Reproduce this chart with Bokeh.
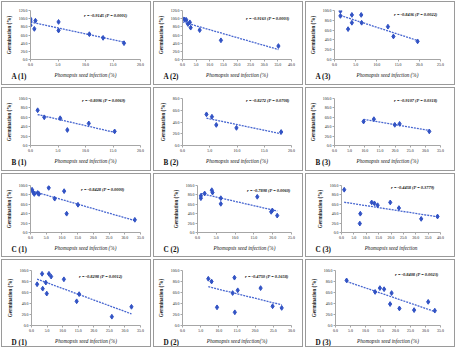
import numpy as np
from bokeh.plotting import figure
from bokeh.layouts import column, row
from bokeh.models import Label, NumeralTickFormatter, SingleIntervalTicker, Range1d
from bokeh.embed import file_html
from bokeh.resources import INLINE

# ---------------- data ----------------
a1_x = [0.0, 0.0, 0.0, 0.9, 0.7, 5.1, 5.1, 10.7, 13.2, 17.0]
a1_y = [99, 94, 84, 95, 75, 92, 71, 62, 53, 40]
a2_x = [0.0, 0.8, 1.4, 2.0, 2.7, 3.0, 6.3, 14.1, 35.2]
a2_y = [100, 98, 97, 87, 91, 78, 72, 47, 33]
a3_x = [1.4, 1.4, 4.1, 4.1, 3.2, 6.3, 6.4, 12.6, 13.9, 19.6]
a3_y = [99, 89, 91, 75, 62, 91, 75, 67, 47, 37]
b1_x = [1.3, 2.5, 5.4, 6.7, 10.6, 15.3]
b1_y = [75, 60, 58, 33, 47, 30]
b2_x = [4.4, 5.4, 6.2, 9.9, 18.1]
b2_y = [53, 49, 35, 30, 23]
b3_x = [9.6, 13.0, 19.9, 21.5, 31.3]
b3_y = [51, 56, 44, 46, 30]
c1_x = [0.5, 0.9, 1.2, 2.3, 2.7, 5.8, 7.7, 10.7, 11.5, 15.1, 33.2]
c1_y = [91, 85, 82, 84, 82, 95, 72, 88, 40, 59, 27]
c2_x = [0.9, 0.9, 1.9, 3.8, 4.0, 6.2, 6.2, 15.9, 19.6, 19.9, 21.2]
c2_y = [78, 73, 83, 90, 85, 73, 61, 76, 44, 47, 36]
c3_x = [1.1, 7.6, 7.4, 12.2, 13.3, 14.6, 19.7, 23.2, 32.2, 38.8]
c3_y = [91, 40, 19, 64, 62, 58, 64, 52, 29, 34]
d1_x = [1.8, 3.4, 3.6, 4.6, 4.9, 5.6, 6.3, 10.4, 14.5, 15.3, 25.8, 32.1]
d1_y = [75, 94, 67, 78, 58, 94, 89, 84, 44, 57, 16, 34]
d2_x = [7.1, 8.0, 9.5, 13.8, 14.3, 14.4, 15.2, 21.5, 24.8, 27.3]
d2_y = [85, 80, 33, 59, 87, 24, 64, 68, 35, 32]
d3_x = [3.7, 13.2, 14.8, 16.2, 18.7, 18.2, 21.3, 26.2, 30.9, 33.1]
d3_y = [82, 61, 68, 66, 59, 39, 31, 28, 43, 27]

x_max = [[20, 40, 25], [20, 20, 35], [35, 25, 40], [35, 30, 35]]
y_max = [[120, 120, 100], [100, 80, 100], [100, 100, 100], [100, 100, 100]]

r_texts = [
    ["r = -0.9145 (P = 0.0001)", "r = -0.9163 (P = 0.0003)", "r = -0.8436 (P = 0.0022)"],
    ["r = -0.8096 (P = 0.0069)", "r = -0.8272 (P = 0.0708)", "r = -0.9107 (P = 0.0318)"],
    ["r = -0.8428 (P = 0.0000)", "r = -0.7898 (P = 0.0060)", "r = -0.4458 (P = 0.3779)"],
    ["r = -0.8298 (P = 0.0012)", "r = -0.4750 (P = 0.1658)", "r = -0.8408 (P = 0.0023)"],
]
panel_labels = [["A (1)", "A (2)", "A (3)"], ["B (1)", "B (2)", "B (3)"],
                ["C (1)", "C (2)", "C (3)"], ["D (1)", "D (2)", "D (3)"]]
x_titles = [
    ["Phomopsis seed infection (%)"] * 3,
    ["Phomopsis seed infection (%)"] * 3,
    ["Phomopsis seed infection (%)", "Phomopsis seed infection (%)", "Phomopsis seed infection"],
    ["Phomopsis seed infection (%)", "Phomopsis seed infection(%)", "Phomopsis seed infection (%)"],
]
y_title = "Germination (%)"

series = [[(a1_x, a1_y), (a2_x, a2_y), (a3_x, a3_y)],
          [(b1_x, b1_y), (b2_x, b2_y), (b3_x, b3_y)],
          [(c1_x, c1_y), (c2_x, c2_y), (c3_x, c3_y)],
          [(d1_x, d1_y), (d2_x, d2_y), (d3_x, d3_y)]]

# ---------------- layout / style ----------------
W = 152          # cell width (figure + 2px frame/margin each side)
PAD = 2
row_h = [86, 86, 86, 90]
row_top = [10, 12, 13, 12]
row_bot = [27, 27, 26, 23]
col_right = [12, 13, 16]
lefts = [[30, 30, 30], [30, 30, 30], [30, 45, 37], [31, 30, 31]]
r_off = [[(13, 5), (2, 8), (3, 4)], [(15, 2), (2, 2), (3, 2)],
         [(16, 4), (1, 5), (6, 2)], [(18, 6), (3, 6), (2, 4)]]

PT = "#3152c4"
LN = "#4766d0"
AX = "#a6a6a6"
FONT = "Liberation Serif"


def make_panel(i, j):
    x, y = series[i][j]
    w = W - 2 * PAD
    h = row_h[i] - 2 * PAD
    l = lefts[i][j] - PAD
    r = col_right[j] - PAD
    t = row_top[i] - PAD
    b = row_bot[i] - PAD
    p = figure(width=w, height=h, x_range=Range1d(0, x_max[i][j]), y_range=Range1d(0, y_max[i][j]),
               min_border_left=l, min_border_right=r, min_border_top=t, min_border_bottom=b,
               output_backend="svg", toolbar_location=None, title=None)
    p.grid.visible = False
    p.outline_line_color = None
    p.xaxis.ticker = SingleIntervalTicker(interval=5, num_minor_ticks=0)
    p.yaxis.ticker = SingleIntervalTicker(interval=20, num_minor_ticks=0)
    for ax in (p.xaxis[0], p.yaxis[0]):
        ax.formatter = NumeralTickFormatter(format="0.0")
        ax.axis_line_color = AX
        ax.major_tick_line_color = AX
        ax.major_tick_out = 2
        ax.major_tick_in = 0
        ax.minor_tick_line_color = None
        ax.major_label_text_font = FONT
        ax.major_label_text_font_size = "3.9px"
        ax.major_label_text_color = "#222222"
        ax.major_label_standoff = 1
        ax.axis_label_text_font = FONT
        ax.axis_label_text_color = "#111111"
    p.xaxis.axis_label = x_titles[i][j]
    p.xaxis.axis_label_text_font_style = "italic"
    p.xaxis.axis_label_text_font_size = "5.2px"
    p.xaxis.axis_label_standoff = 3
    p.yaxis.axis_label = y_title
    p.yaxis.axis_label_text_font_style = "bold"
    p.yaxis.axis_label_text_font_size = "5.2px"
    p.yaxis.axis_label_standoff = 4

    xs = np.array(x, dtype=float)
    ys = np.array(y, dtype=float)
    k, c = np.polyfit(xs, ys, 1)
    lx = np.array([xs.min(), xs.max()])
    p.line(lx, k * lx + c, line_color=LN, line_dash="2 1", line_width=1.3)
    p.scatter(x, y, marker="diamond", size=4.8, color=PT)

    fw = w - l - r
    fh = h - t - b
    dx, dy = r_off[i][j]
    p.add_layout(Label(x=fw - dx, y=fh - dy, x_units="screen", y_units="screen",
                       text=r_texts[i][j], text_align="right", text_baseline="middle",
                       text_font=FONT, text_font_style="bold italic", text_font_size="4.4px",
                       text_color="#111111"))
    # panel tag, kept in the (empty) top side panel so it is not clipped to the frame
    p.add_layout(Label(x=(11 - PAD) - l, y=-(fh + 17), x_units="screen", y_units="screen",
                       text=panel_labels[i][j], text_align="left", text_baseline="middle",
                       text_font=FONT, text_font_style="bold", text_font_size="7.2px",
                       text_color="#111111"), "above")
    wrap = column(p, styles={"border": "1px solid #9a9a9a", "margin": "1px",
                             "background-color": "white"})
    return wrap


rows = [row(*[make_panel(i, j) for j in range(3)]) for i in range(4)]
layout = column(*rows)

open("out.html", "w").write(file_html(layout, INLINE))
